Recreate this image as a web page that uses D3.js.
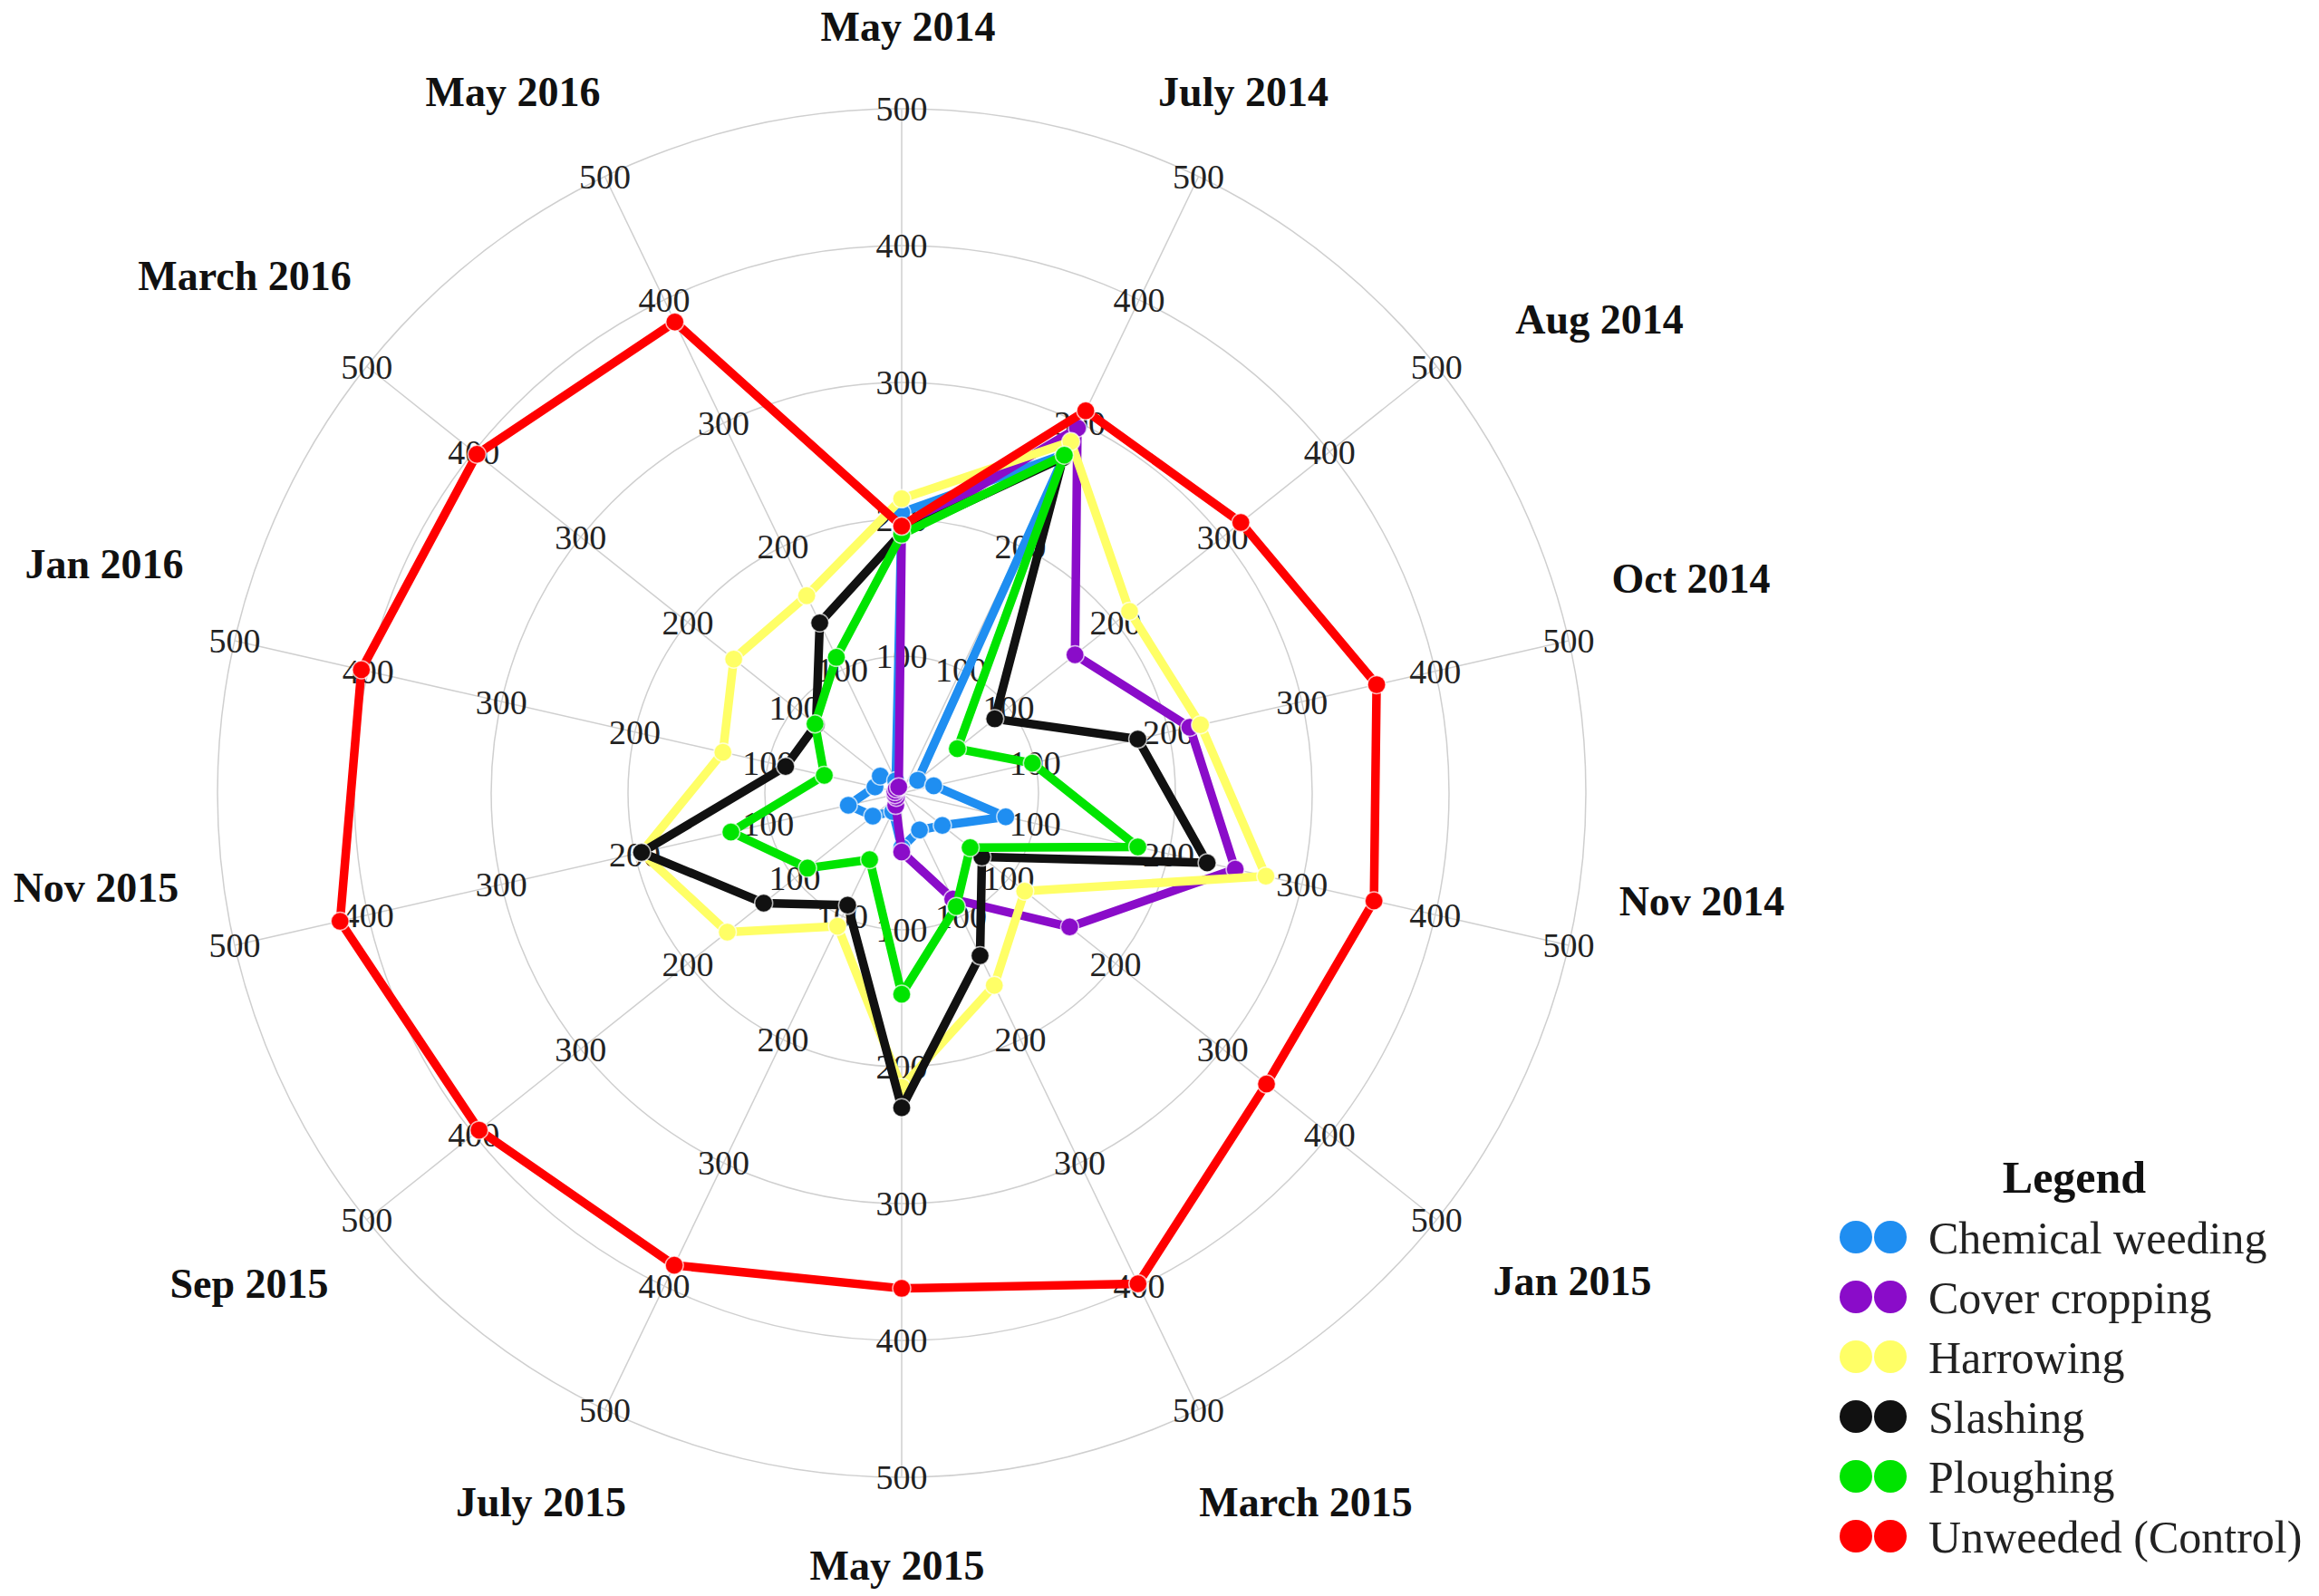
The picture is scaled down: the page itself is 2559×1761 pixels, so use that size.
<!DOCTYPE html>
<html>
<head>
<meta charset="utf-8">
<script src="https://cdn.jsdelivr.net/npm/d3@7"></script>
<style>
  body { margin: 0; background: #fff; }
  text { font-family: "Liberation Serif", "DejaVu Serif", serif; }
</style>
</head>
<body>
<svg id="chart" width="2559" height="1761"></svg>
<script>
// axes (months), clockwise from top
const months = ['May 2014', 'July 2014', 'Aug 2014', 'Oct 2014', 'Nov 2014', 'Jan 2015', 'March 2015',
  'May 2015', 'July 2015', 'Sep 2015', 'Nov 2015', 'Jan 2016', 'March 2016', 'May 2016'];
const ticks = [100, 200, 300, 400, 500];

const chemical = [205, 275, 15, 24, 78, 38, 30, 40, 15, 27, 40, 20, 20, 10];
const cover = [190, 296, 162, 216, 250, 157, 86, 43, 10, 5, 5, 5, 5, 5];
const harrowing = [215, 285, 213, 224, 273, 115, 156, 215, 108, 163, 195, 134, 157, 160];
const slashing = [190, 272, 87, 177, 229, 75, 132, 230, 91, 129, 195, 87, 80, 138];
const ploughing = [189, 274, 52, 98, 177, 64, 92, 147, 54, 88, 128, 58, 81, 110];
const unweeded = [195, 310, 317, 356, 354, 341, 398, 362, 383, 395, 421, 405, 397, 382];

const series = [
  { name: 'Chemical weeding', values: chemical, color: '#1f8ef1' },
  { name: 'Cover cropping', values: cover, color: '#8a0cc9' },
  { name: 'Harrowing', values: harrowing, color: '#ffff66' },
  { name: 'Slashing', values: slashing, color: '#111111' },
  { name: 'Ploughing', values: ploughing, color: '#00e400' },
  { name: 'Unweeded (Control)', values: unweeded, color: '#ff0000' },
];

// month label offsets from the centre (layout only)
const labelPos = [[7, -846], [377, -774], [770, -523], [871, -237], [883, 119], [740, 538], [446, 782],
  [-5, 852], [-398, 782], [-720, 541], [-889, 104], [-880, -253], [-725, -571], [-429, -774]];

const svg = d3.select('#chart');
const cx = 995, cy = 875;
const g = svg.append('g').attr('transform', `translate(${cx},${cy})`);

const r = d3.scaleLinear().domain([0, 500]).range([0, 755]);
const angle = d3.scalePoint().domain(months).range([0, 2 * Math.PI * 13 / 14]);
const pt = (m, v) => {
  const a = angle(m);
  return [Math.sin(a) * r(v), -Math.cos(a) * r(v)];
};

// grid rings and spokes
g.selectAll('circle.ring').data(ticks).join('circle')
  .attr('r', d => r(d)).attr('fill', 'none').attr('stroke', '#cfcfcf').attr('stroke-width', 1.5);
g.selectAll('line.spoke').data(months).join('line')
  .attr('x1', 0).attr('y1', 0)
  .attr('x2', d => pt(d, 500)[0]).attr('y2', d => pt(d, 500)[1])
  .attr('stroke', '#cfcfcf').attr('stroke-width', 1.5);

// tick labels along each spoke
months.forEach(m => {
  g.selectAll(null).data(ticks).join('text')
    .attr('x', d => pt(m, d)[0]).attr('y', d => pt(m, d)[1])
    .attr('text-anchor', 'middle').attr('dy', '0.35em')
    .attr('font-size', 38).attr('fill', '#222')
    .text(d => d);
});

// month labels
g.selectAll('text.month').data(months).join('text')
  .attr('x', (d, i) => labelPos[i][0])
  .attr('y', (d, i) => labelPos[i][1])
  .attr('text-anchor', 'middle').attr('dy', '0.35em')
  .attr('font-size', 46).attr('font-weight', 'bold').attr('fill', '#111')
  .text(d => d);

// series
const line = d3.lineRadial()
  .angle((d, i) => angle(months[i]))
  .radius(d => r(d))
  .curve(d3.curveLinearClosed);

series.forEach(s => {
  g.append('path').attr('d', line(s.values))
    .attr('fill', 'none').attr('stroke', s.color).attr('stroke-width', 9.5)
    .attr('stroke-linejoin', 'round');
  g.selectAll(null).data(s.values).join('circle')
    .attr('cx', (d, i) => pt(months[i], d)[0])
    .attr('cy', (d, i) => pt(months[i], d)[1])
    .attr('r', 10).attr('fill', s.color)
    .attr('stroke', '#fff').attr('stroke-width', 1.5).attr('stroke-opacity', 0.7);
});

// legend
const lg = svg.append('g').attr('transform', 'translate(2030,1298)');
lg.append('text').attr('x', 259).attr('y', 0).attr('text-anchor', 'middle').attr('dy', '0.35em')
  .attr('font-size', 50).attr('font-weight', 'bold').attr('fill', '#111').text('Legend');
const rows = lg.selectAll('g.row').data(series).join('g')
  .attr('transform', (d, i) => `translate(0,${67 + i * 66})`);
rows.append('circle').attr('cx', 18).attr('r', 18).attr('fill', d => d.color);
rows.append('circle').attr('cx', 56).attr('r', 18).attr('fill', d => d.color);
rows.append('text').attr('x', 98).attr('dy', '0.35em').attr('font-size', 50).attr('fill', '#222')
  .text(d => d.name);
</script>
</body>
</html>
